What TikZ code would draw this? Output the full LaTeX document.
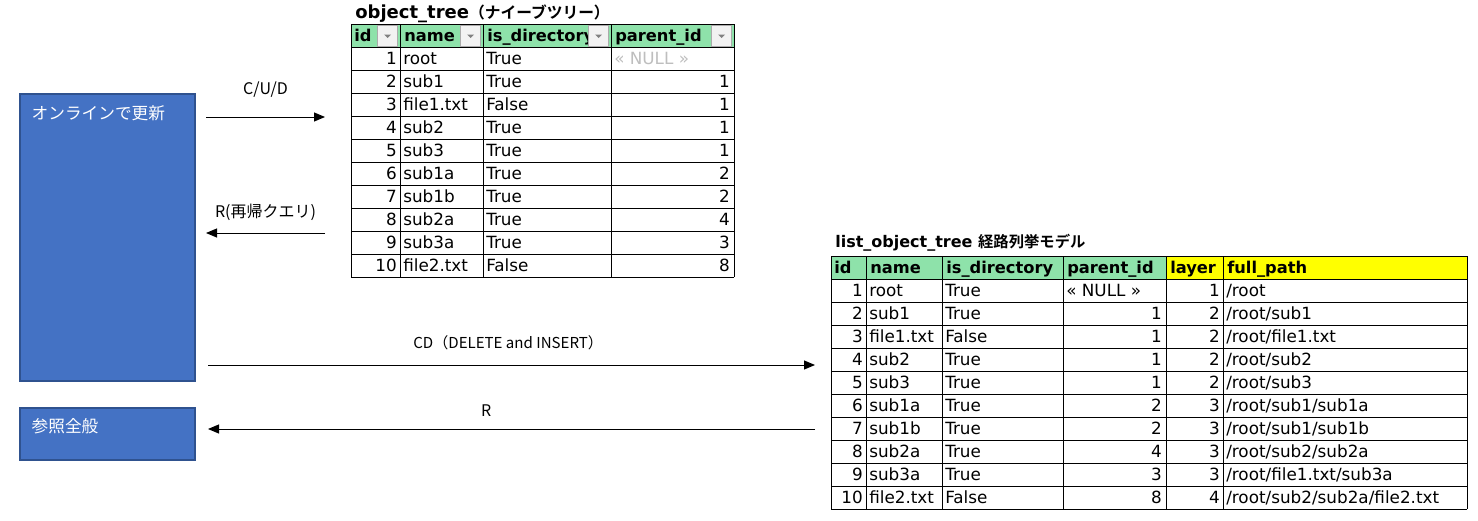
\documentclass[tikz,border=0pt]{standalone}
\usepackage{fontspec}
\setmainfont{DejaVu Sans}
\newfontfamily\jp{Noto Sans CJK JP}[BoldFont={Noto Sans CJK JP Bold}]
\usetikzlibrary{arrows.meta}
\definecolor{hdrgreen}{RGB}{142,226,170}
\definecolor{hdryellow}{RGB}{255,255,0}
\definecolor{boxblue}{RGB}{68,114,196}
\definecolor{boxedge}{RGB}{47,82,143}
\definecolor{nullgrey}{RGB}{190,190,190}
\definecolor{btnedge}{RGB}{171,171,171}
\definecolor{btnfill}{RGB}{242,242,242}
\definecolor{btnmark}{RGB}{128,128,128}

\begin{document}
\begin{tikzpicture}[x=0.75pt, y=-0.75pt, font=\fontsize{12.6}{14}\selectfont]
    \tikzstyle{actor} = [rectangle, draw=boxedge, line width=1.5pt, fill=boxblue, anchor=north west, inner sep=0pt]
    \tikzstyle{actortext} = [anchor=west, text=white, font=\jp\fontsize{12.5}{14}\selectfont]
    \tikzstyle{flow} = [-{Triangle[length=8.25pt, width=6.75pt]}, line width=0.75pt]
    \tikzstyle{flowlabel} = [midway, anchor=base, font=\jp\fontsize{12}{14}\selectfont]
    \tikzstyle{title} = [anchor=base west, inner sep=0pt, font=\fontsize{12}{14}\selectfont\bfseries]
    \tikzstyle{grid} = [line width=0.75pt]
    \tikzstyle{cellL} = [anchor=base west, inner sep=0pt]
    \tikzstyle{cellR} = [anchor=base east, inner sep=0pt]
    \tikzstyle{head} = [cellL, font=\fontsize{12.2}{14}\selectfont\bfseries]
    \tikzstyle{filterbtn} = [rectangle, draw=btnedge, fill=btnfill, line width=0.6pt, anchor=north east, minimum width=15pt, minimum height=15.75pt, inner sep=0pt]

    \useasboundingbox (0,0) rectangle (1478,521);
    \fill[white] (0,0) rectangle (1478,521);

    % Applications
    \node [actor, minimum width=131.25pt, minimum height=215.25pt] (upd) at (19,93) {};
    \node [actortext] (upd-txt) at (27,113) {オンラインで更新};
    \node [actor, minimum width=131.25pt, minimum height=39pt] (ref) at (19,407) {};
    \node [actortext] (ref-txt) at (27,426) {参照全般};

    % object_tree (naive tree)
    \node [title, font=\fontsize{13.5}{14}\selectfont\bfseries] (ot-title) at (355,18) {object\_tree{\jp\bfseries\fontsize{11.8}{14}\selectfont（ナイーブツリー）}};
    \fill[hdrgreen] (351,24) rectangle (734,47);
    \foreach \x in {351,400,483,611,734}
        \draw[grid] (\x,24) -- (\x,277);
    \foreach \k in {0,...,11}
        \draw[grid] (351,{24+23*\k}) -- (734,{24+23*\k});
    \node [head] (ot-h-id) at (354,41.5) {id};
    \node [head] (ot-h-name) at (404,41.5) {name};
    \node [head] (ot-h-dir) at (487,41.5) {is\_directory};
    \node [head] (ot-h-par) at (615,41.5) {parent\_id};
    \foreach \x/\c in {400/id,483/name,611/dir,734/par} {
        \node [filterbtn] (ot-btn-\c) at ({\x-2},25) {};
        \fill[btnmark] ([xshift=-2.6pt,yshift=1pt]ot-btn-\c.center) -- ++(5.2pt,0) -- ++(-2.6pt,-2.6pt) -- cycle;
    }
    \foreach \i/\nm/\dir/\pid in {1/root/True/{},2/sub1/True/1,3/file1.txt/False/1,4/sub2/True/1,5/sub3/True/1,
                                  6/sub1a/True/2,7/sub1b/True/2,8/sub2a/True/4,9/sub3a/True/3,10/file2.txt/False/8} {
        \node [cellR] (ot-id-\i) at (397,{24+23*\i+17.5}) {\i};
        \node [cellL] (ot-name-\i) at (403,{24+23*\i+17.5}) {\nm};
        \node [cellL] (ot-dir-\i) at (486,{24+23*\i+17.5}) {\dir};
        \node [cellR] (ot-par-\i) at (730,{24+23*\i+17.5}) {\pid};
    }
    \node [cellL, text=nullgrey] (ot-null) at (614,64.5) {« NULL »};

    % list_object_tree (path enumeration)
    \node [title] (lt-title) at (835,247) {list\_object\_tree {\jp\bfseries\fontsize{11.5}{14}\selectfont 経路列挙モデル}};
    \fill[hdrgreen] (831,256) rectangle (1166,279);
    \fill[hdryellow] (1166,256) rectangle (1467,279);
    \foreach \x in {831,866,942,1063,1166,1223,1467}
        \draw[grid] (\x,256) -- (\x,509);
    \foreach \k in {0,...,11}
        \draw[grid] (831,{256+23*\k}) -- (1467,{256+23*\k});
    \node [head] (lt-h-id) at (834,273.5) {id};
    \node [head] (lt-h-name) at (870,273.5) {name};
    \node [head] (lt-h-dir) at (946,273.5) {is\_directory};
    \node [head] (lt-h-par) at (1067,273.5) {parent\_id};
    \node [head] (lt-h-lay) at (1170,273.5) {layer};
    \node [head] (lt-h-path) at (1227,273.5) {full\_path};
    \foreach \i/\nm/\dir/\pid/\lay/\pth in {1/root/True/{}/1/{/root},2/sub1/True/1/2/{/root/sub1},
            3/file1.txt/False/1/2/{/root/file1.txt},4/sub2/True/1/2/{/root/sub2},5/sub3/True/1/2/{/root/sub3},
            6/sub1a/True/2/3/{/root/sub1/sub1a},7/sub1b/True/2/3/{/root/sub1/sub1b},8/sub2a/True/4/3/{/root/sub2/sub2a},
            9/sub3a/True/3/3/{/root/file1.txt/sub3a},10/file2.txt/False/8/4/{/root/sub2/sub2a/file2.txt}} {
        \node [cellR] (lt-id-\i) at (863,{256+23*\i+17.5}) {\i};
        \node [cellL] (lt-name-\i) at (869,{256+23*\i+17.5}) {\nm};
        \node [cellL] (lt-dir-\i) at (945,{256+23*\i+17.5}) {\dir};
        \node [cellR] (lt-par-\i) at (1162,{256+23*\i+17.5}) {\pid};
        \node [cellR] (lt-lay-\i) at (1220,{256+23*\i+17.5}) {\lay};
        \node [cellL] (lt-path-\i) at (1226,{256+23*\i+17.5}) {\pth};
    }
    \node [cellL] (lt-null) at (1066,296.5) {« NULL »};

    % Connections
    \coordinate (cud-s) at (206,117);
    \coordinate (cud-e) at (325,117);
    \coordinate (rec-s) at (325,233);
    \coordinate (rec-e) at (206,233);
    \coordinate (cd-s) at (208,365);
    \coordinate (cd-e) at (815,365);
    \coordinate (rd-s) at (815,429);
    \coordinate (rd-e) at (208,429);
    \draw [flow] (cud-s) -- (cud-e) node [flowlabel, yshift=17.25pt] (cud-lbl) {C/U/D};
    \draw [flow] (rec-s) -- (rec-e) node [flowlabel, yshift=12pt] (rec-lbl) {R(再帰クエリ)};
    \draw [flow] (cd-s) -- (cd-e) node [flowlabel, yshift=12.75pt, xshift=-2.5pt, font=\jp\fontsize{11.3}{14}\selectfont] (cd-lbl) {CD（DELETE and INSERT）};
    \draw [flow] (rd-s) -- (rd-e) node [flowlabel, yshift=9.25pt, xshift=-19pt] (rd-lbl) {R};
\end{tikzpicture}
\end{document}
